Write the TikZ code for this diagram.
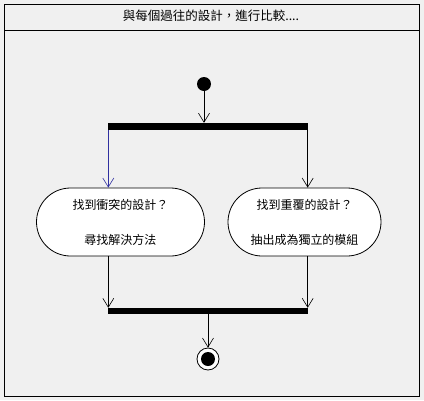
\documentclass[tikz,border=0pt]{standalone}
\usepackage{fontspec}
\newfontfamily\cjk{Noto Sans CJK TC}
\usetikzlibrary{arrows.meta}
\definecolor{bg}{HTML}{F0F0F0}
\definecolor{linkblue}{HTML}{3030A0}
\tikzset{
  actbox/.style={draw, fill=white, rounded corners=34pt, minimum width=168pt, minimum height=68pt, align=center, font=\cjk\fontsize{12}{35}\selectfont, line width=0.8pt},
  bar/.style={fill=black, draw=none},
  flow/.style={-{Straight Barb[length=9pt,width=11pt]}, line width=0.6pt},
}
\begin{document}
\begin{tikzpicture}[x=1pt,y=-1pt]
\useasboundingbox (0,0) rectangle (424,400);
\fill[bg] (0,0) rectangle (424,400);
\draw[line width=0.9pt] (4,4) rectangle (419,396);
\draw[line width=0.9pt] (4,30) -- (419,30);
\node[font=\cjk\fontsize{12.5}{14}\selectfont] (title) at (211,16) {與每個過往的設計，進行比較....};
% start
\node[circle, fill=black, minimum size=14pt, inner sep=0pt] (start) at (204,84) {};
% fork
\node[bar, minimum width=200pt, minimum height=7pt, inner sep=0pt] (fork) at (208,126.5) {};
% activities
\node[actbox] (a1) at (120.5,222) {找到衝突的設計？\\尋找解決方法};
\node[actbox, minimum width=153pt] (a2) at (304.5,222) {找到重覆的設計？\\抽出成為獨立的模組};
% join
\node[bar, minimum width=200pt, minimum height=6pt, inner sep=0pt] (join) at (208,311) {};
% end
\node[circle, draw, fill=white, line width=0.8pt, minimum size=22pt, inner sep=0pt] (end) at (208,359) {};
\node[circle, fill=black, minimum size=14pt, inner sep=0pt] (endin) at (end.center) {};
% connectors
\draw[flow] (start.south) -- (start.south |- fork.north);
\draw[flow, draw=linkblue] (fork.south west) ++(0.5,0) coordinate (f1) -- (f1 |- a1.north);
\draw[flow] (fork.south east) ++(-0.5,0) coordinate (f2) -- (f2 |- a2.north);
\draw[flow] (f1 |- a1.south) -- (f1 |- join.north);
\draw[flow] (f2 |- a2.south) -- (f2 |- join.north);
\draw[flow] (end.north |- join.south) -- (end.north);
\end{tikzpicture}
\end{document}
